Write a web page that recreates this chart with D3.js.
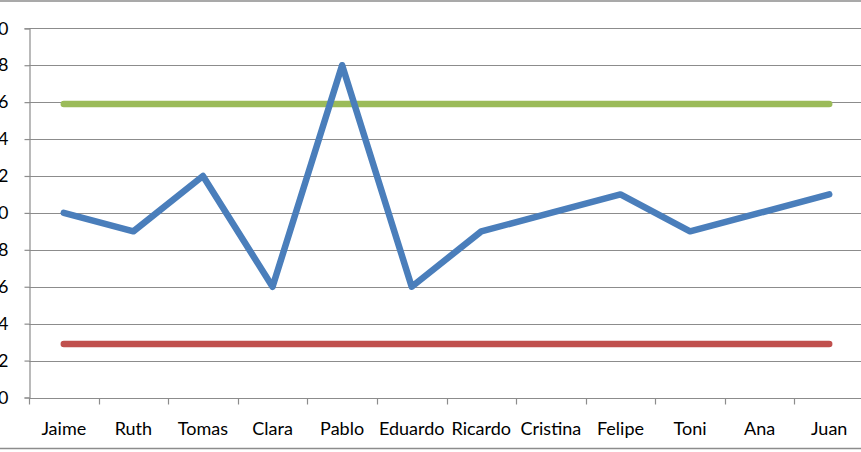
<!DOCTYPE html>
<html lang="es">
<head>
<meta charset="utf-8">
<title>Chart</title>
<style>
  html, body { margin: 0; padding: 0; background: #fff; }
  svg { display: block; }
  .lbl { font-family: Lato, "Open Sans", sans-serif; font-size: 18px; fill: #000; }
</style>
</head>
<body>
<svg id="chart" width="861" height="452"></svg>
<script src="https://d3js.org/d3.v7.min.js"></script>
<script>
// chart data
const names = ["Jaime", "Ruth", "Tomas", "Clara", "Pablo", "Eduardo", "Ricardo", "Cristina", "Felipe", "Toni", "Ana", "Juan"];
const scores = [10, 9, 12, 6, 18, 6, 9, 10, 11, 9, 10, 11];
const upperLimit = 15.9;
const lowerLimit = 2.9;
const yTicks = [0, 2, 4, 6, 8, 10, 12, 14, 16, 18, 20];

const width = 861, height = 452;
const plot = { left: 29, right: 864, top: 28.3, bottom: 397.5 };

const svg = d3.select("#chart");

const x = d3.scaleBand().domain(names).range([plot.left, plot.right]);
const y = d3.scaleLinear().domain([0, 20]).range([plot.bottom, plot.top]);

// outer frame lines (top / bottom)
svg.append("line").attr("x1", 0).attr("x2", width).attr("y1", 1).attr("y2", 1)
  .attr("stroke", "#8c8c8c").attr("stroke-width", 1.5);
svg.append("line").attr("x1", 0).attr("x2", width).attr("y1", 448.5).attr("y2", 448.5)
  .attr("stroke", "#8c8c8c").attr("stroke-width", 1.5);

// gridlines
svg.append("g")
  .selectAll("line")
  .data(yTicks.filter(d => d > 0))
  .join("line")
  .attr("x1", plot.left).attr("x2", width)
  .attr("y1", d => Math.round(y(d)) + 0.5).attr("y2", d => Math.round(y(d)) + 0.5)
  .attr("stroke", "#8c8c8c").attr("stroke-width", 1.2);

// y axis
const yAxis = svg.append("g")
  .attr("transform", `translate(${plot.left + 0.5},0)`)
  .call(d3.axisLeft(y).tickValues(yTicks).tickSize(5).tickPadding(16).tickFormat(d3.format("d")));
yAxis.selectAll("path, line").attr("stroke", "#8c8c8c").attr("stroke-width", 1.2);
yAxis.selectAll("text").attr("class", "lbl").attr("font-size", null).attr("font-family", null);

// x axis with ticks at band boundaries
const xg = svg.append("g").attr("transform", `translate(0,${Math.round(plot.bottom) + 0.5})`);
xg.append("line").attr("x1", plot.left).attr("x2", width)
  .attr("stroke", "#8c8c8c").attr("stroke-width", 1.2);
xg.selectAll("line.tk")
  .data(names)
  .join("line").attr("class", "tk")
  .attr("x1", d => Math.round(x(d)) + 0.5).attr("x2", d => Math.round(x(d)) + 0.5)
  .attr("y1", 0).attr("y2", 6)
  .attr("stroke", "#8c8c8c").attr("stroke-width", 1.2);
xg.selectAll("text")
  .data(names)
  .join("text").attr("class", "lbl")
  .attr("x", d => x(d) + x.bandwidth() / 2)
  .attr("y", 36)
  .attr("text-anchor", "middle")
  .text(d => d);

const cx = d => x(d) + x.bandwidth() / 2;

// limit lines
const first = names[0], last = names[names.length - 1];
svg.append("line")
  .attr("x1", cx(first)).attr("x2", cx(last))
  .attr("y1", y(upperLimit)).attr("y2", y(upperLimit))
  .attr("stroke", "#9bbb59").attr("stroke-width", 6.5).attr("stroke-linecap", "round");
svg.append("line")
  .attr("x1", cx(first)).attr("x2", cx(last))
  .attr("y1", y(lowerLimit)).attr("y2", y(lowerLimit))
  .attr("stroke", "#c0504d").attr("stroke-width", 6.5).attr("stroke-linecap", "round");

// score series
const line = d3.line().x((d, i) => cx(names[i])).y(d => y(d));
svg.append("path")
  .datum(scores)
  .attr("d", line)
  .attr("fill", "none")
  .attr("stroke", "#4a7ebb")
  .attr("stroke-width", 6.5)
  .attr("stroke-linecap", "round")
  .attr("stroke-linejoin", "round");
</script>
</body>
</html>
